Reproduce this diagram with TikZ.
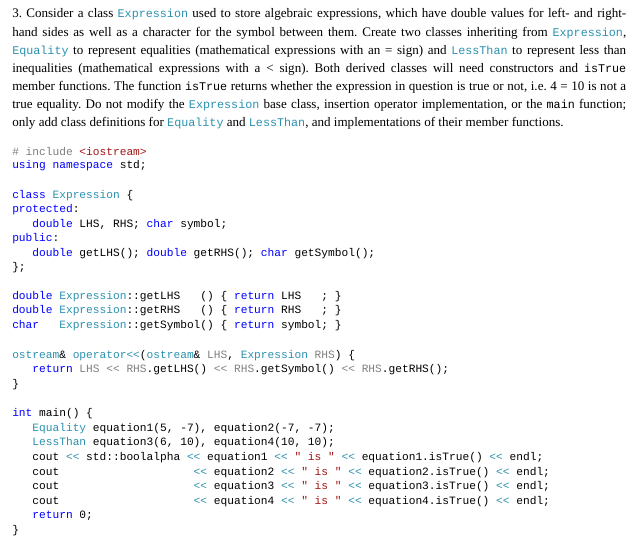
\documentclass[tikz,border=0pt]{standalone}
\usepackage{fontspec}
\setmainfont{Liberation Serif}
\setmonofont{Liberation Mono}
\frenchspacing
\definecolor{kw}{HTML}{0000FF}
\definecolor{ty}{HTML}{2B91AF}
\definecolor{st}{HTML}{A31515}
\definecolor{gr}{HTML}{808080}
\newcommand{\kw}[1]{\textcolor{kw}{#1}}
\newcommand{\ty}[1]{\textcolor{ty}{#1}}
\newcommand{\stc}[1]{\textcolor{st}{#1}}
\newcommand{\gr}[1]{\textcolor{gr}{#1}}
\newcommand{\cd}[1]{{\ttfamily\fontsize{8.8}{10}\selectfont\textcolor{ty}{#1}}}
\newcommand{\cb}[1]{{\ttfamily\fontsize{8.8}{10}\selectfont #1}}
\begin{document}
\begin{tikzpicture}[x=0.75pt,y=-0.75pt,
  pl/.style={anchor=west,inner sep=0pt,font=\fontsize{9.8}{11}\selectfont},
  cl/.style={anchor=west,inner sep=0pt,font=\ttfamily\fontsize{8.4}{10}\selectfont}]
\useasboundingbox (0,0) rectangle (638,554);
\fill[white] (0,0) rectangle (638,554);
\node[pl] (p1) at (12,14) {\makebox[460.5pt][s]{3. Consider a class \cd{Expression} used to store algebraic expressions, which have double values for left- and right-}};
\node[pl] (p2) at (12,33) {\makebox[460.5pt][s]{hand sides as well as a character for the symbol between them. Create two classes inheriting from \cd{Expression},}};
\node[pl] (p3) at (12,51) {\makebox[460.5pt][s]{\cd{Equality} to represent equalities (mathematical expressions with an = sign) and \cd{LessThan} to represent less than}};
\node[pl] (p4) at (12,69) {\makebox[460.5pt][s]{inequalities (mathematical expressions with a < sign). Both derived classes will need constructors and \cb{isTrue}}};
\node[pl] (p5) at (12,87) {\makebox[460.5pt][s]{member functions. The function \cb{isTrue} returns whether the expression in question is true or not, i.e. 4 = 10 is not a}};
\node[pl] (p6) at (12,105) {\makebox[460.5pt][s]{true equality. Do not modify the \cd{Expression} base class, insertion operator implementation, or the \cb{main} function;}};
\node[pl] (p7) at (12,123) {only add class definitions for \cd{Equality} and \cd{LessThan}, and implementations of their member functions.};

\node[cl] (c1) at (12,152) {\gr{\#\ include} \stc{<iostream>}};
\node[cl] (c2) at (12,166) {\kw{using}\ \kw{namespace}\ std;};
\node[cl] (c3) at (12,196) {\kw{class}\ \ty{Expression}\ \{};
\node[cl] (c4) at (12,210) {\kw{protected}:};
\node[cl] (c5) at (12,225) {\ \ \ \kw{double}\ LHS,\ RHS;\ \kw{char}\ symbol;};
\node[cl] (c6) at (12,239) {\kw{public}:};
\node[cl] (c7) at (12,254) {\ \ \ \kw{double}\ getLHS();\ \kw{double}\ getRHS();\ \kw{char}\ getSymbol();};
\node[cl] (c8) at (12,268) {\};};
\node[cl] (c9) at (12,297) {\kw{double}\ \ty{Expression}::getLHS\ \ \ ()\ \{\ \kw{return}\ LHS\ \ \ ;\ \}};
\node[cl] (c10) at (12,311) {\kw{double}\ \ty{Expression}::getRHS\ \ \ ()\ \{\ \kw{return}\ RHS\ \ \ ;\ \}};
\node[cl] (c11) at (12,326) {\kw{char}\ \ \ \ty{Expression}::getSymbol()\ \{\ \kw{return}\ symbol;\ \}};
\node[cl] (c12) at (12,356) {\ty{ostream}\&\ \ty{operator<<}(\ty{ostream}\&\ \gr{LHS},\ \ty{Expression}\ \gr{RHS})\ \{};
\node[cl] (c13) at (12,370) {\ \ \ \kw{return}\ \gr{LHS}\ \gr{<<}\ \gr{RHS}.getLHS()\ \gr{<<}\ \gr{RHS}.getSymbol()\ \gr{<<}\ \gr{RHS}.getRHS();};
\node[cl] (c14) at (12,385) {\}};
\node[cl] (c15) at (12,414) {\kw{int}\ main()\ \{};
\node[cl] (c16) at (12,429) {\ \ \ \ty{Equality}\ equation1(5,\ -7),\ equation2(-7,\ -7);};
\node[cl] (c17) at (12,443) {\ \ \ \ty{LessThan}\ equation3(6,\ 10),\ equation4(10,\ 10);};
\node[cl] (c18) at (12,458) {\ \ \ cout\ \ty{<<}\ std::boolalpha\ \ty{<<}\ equation1\ \ty{<<}\ \stc{"\ is\ "}\ \ty{<<}\ equation1.isTrue()\ \ty{<<}\ endl;};
\node[cl] (c19) at (12,473) {\ \ \ cout\ \ \ \ \ \ \ \ \ \ \ \ \ \ \ \ \ \ \ \ \ty{<<}\ equation2\ \ty{<<}\ \stc{"\ is\ "}\ \ty{<<}\ equation2.isTrue()\ \ty{<<}\ endl;};
\node[cl] (c20) at (12,487) {\ \ \ cout\ \ \ \ \ \ \ \ \ \ \ \ \ \ \ \ \ \ \ \ \ty{<<}\ equation3\ \ty{<<}\ \stc{"\ is\ "}\ \ty{<<}\ equation3.isTrue()\ \ty{<<}\ endl;};
\node[cl] (c21) at (12,502) {\ \ \ cout\ \ \ \ \ \ \ \ \ \ \ \ \ \ \ \ \ \ \ \ \ty{<<}\ equation4\ \ty{<<}\ \stc{"\ is\ "}\ \ty{<<}\ equation4.isTrue()\ \ty{<<}\ endl;};
\node[cl] (c22) at (12,516) {\ \ \ \kw{return}\ 0;};
\node[cl] (c23) at (12,531) {\}};
\end{tikzpicture}
\end{document}
